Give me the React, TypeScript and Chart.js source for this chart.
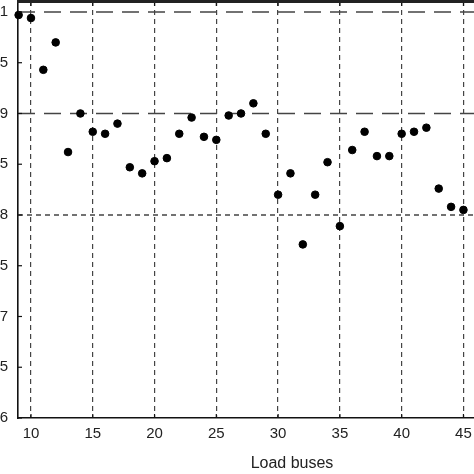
import { useEffect, useRef } from "react"
import { Chart, registerables } from "chart.js"

Chart.register(...registerables)

// load bus numbers and their voltage magnitudes (p.u.)
const buses = [
  9, 10, 11, 12, 13, 14, 15, 16, 17, 18, 19, 20, 21, 22, 23, 24, 25, 26, 27,
  28, 29, 30, 31, 32, 33, 34, 35, 36, 37, 38, 39, 40, 41, 42, 43, 44, 45,
]
const voltages = [
  0.9997, 0.9994, 0.9943, 0.997, 0.9862, 0.99, 0.9882, 0.988, 0.989, 0.9847,
  0.9841, 0.9853, 0.9856, 0.988, 0.9896, 0.9877, 0.9874, 0.9898, 0.99, 0.991,
  0.988, 0.982, 0.9841, 0.9771, 0.982, 0.9852, 0.9789, 0.9864, 0.9882, 0.9858,
  0.9858, 0.988, 0.9882, 0.9886, 0.9826, 0.9808, 0.9805,
]

const xTickValues = [10, 15, 20, 25, 30, 35, 40, 45, 50]
const yTickValues = [0.96, 0.965, 0.97, 0.975, 0.98, 0.985, 0.99, 0.995, 1.0]

// horizontal reference levels
const longDashLevels = [1.0, 0.99]
const shortDashLevels = [0.98]

const X_MIN = 8.95
const X_MAX = 53.3
const Y_MIN = 0.96
const Y_MAX = 1.00108

const framePlugin = {
  id: "frame",
  afterDraw(chart: Chart) {
    const { ctx, chartArea: a, scales } = chart
    const line = (x1: number, y1: number, x2: number, y2: number) => {
      ctx.beginPath()
      ctx.moveTo(x1, y1)
      ctx.lineTo(x2, y2)
      ctx.stroke()
    }
    ctx.save()
    ctx.strokeStyle = "#111"
    ctx.lineWidth = 1.2
    for (const v of xTickValues) {
      const px = scales.x.getPixelForValue(v)
      line(px, a.bottom, px, a.bottom - 4)
      line(px, a.top, px, a.top + 5)
    }
    for (const v of yTickValues) {
      const py = scales.y.getPixelForValue(v)
      line(a.left, py, a.left + 4, py)
    }
    // heavy top edge of the frame
    ctx.fillStyle = "#222"
    ctx.fillRect(a.left - 1, a.top - 1, a.right - a.left + 2, 3)
    ctx.fillRect(a.right - 1, a.top, 2, a.bottom - a.top)
    ctx.restore()
  },
}

function levelDataset(level: number, dash: number[]) {
  return {
    type: "line" as const,
    data: [
      { x: X_MIN, y: level },
      { x: X_MAX, y: level },
    ],
    borderColor: "#444",
    borderWidth: 1.4,
    borderDash: dash,
    pointRadius: 0,
    fill: false,
  }
}

export default function App() {
  const chartRef = useRef<HTMLCanvasElement>(null)
  const chartInstance = useRef<Chart | null>(null)

  useEffect(() => {
    if (!chartRef.current) return
    if (chartInstance.current) chartInstance.current.destroy()
    const ctx = chartRef.current.getContext("2d")
    if (!ctx) return

    Chart.defaults.font.family = "'Liberation Sans', Arial, sans-serif"
    Chart.defaults.color = "#222"

    chartInstance.current = new Chart(ctx, {
      type: "scatter",
      data: {
        datasets: [
          {
            type: "scatter",
            data: buses.map((b, i) => ({ x: b, y: voltages[i] })),
            backgroundColor: "#000",
            borderColor: "#000",
            pointRadius: 3.8,
            clip: false,
          },
          ...longDashLevels.map((l) => levelDataset(l, [17, 9])),
          ...shortDashLevels.map((l) => levelDataset(l, [5, 4])),
        ] as any,
      },
      options: {
        animation: false,
        responsive: false,
        layout: {
          autoPadding: false,
          padding: { top: 1, right: 34, left: 0, bottom: 0 },
        },
        plugins: {
          legend: { display: false },
          tooltip: { enabled: false },
        },
        scales: {
          x: {
            type: "linear",
            min: X_MIN,
            max: X_MAX,
            afterBuildTicks: (scale) => {
              scale.ticks = xTickValues.map((v) => ({ value: v }))
            },
            afterFit: (scale: any) => {
              scale.height = 56
              scale.paddingLeft = 0
              scale.paddingRight = 0
            },
            ticks: {
              font: { size: 15 },
              padding: 7,
              maxRotation: 0,
              autoSkip: false,
            },
            grid: {
              color: "#444",
              lineWidth: 1.2,
              drawTicks: false,
            },
            border: { display: true, color: "#111", width: 1.6, dash: [5, 4] },
            title: {
              display: true,
              text: "Load buses",
              font: { size: 16 },
              color: "#222",
              padding: { top: 0, bottom: 1 },
            },
          },
          y: {
            type: "linear",
            min: Y_MIN,
            max: Y_MAX,
            afterBuildTicks: (scale) => {
              scale.ticks = yTickValues.map((v) => ({ value: v }))
            },
            afterFit: (scale: any) => {
              scale.width = 18
              scale.paddingTop = 0
              scale.paddingBottom = 0
            },
            ticks: {
              font: { size: 15 },
              padding: 10,
              callback: (value) => String(Number(Number(value).toFixed(3))),
            },
            grid: { display: false, drawTicks: false },
            border: { display: true, color: "#111", width: 1.6 },
          },
        },
      },
      plugins: [framePlugin],
    })

    return () => {
      if (chartInstance.current) {
        chartInstance.current.destroy()
        chartInstance.current = null
      }
    }
  }, [])

  return (
    <div
      style={{
        position: "fixed",
        left: 0,
        top: 0,
        width: 474,
        height: 474,
        overflow: "hidden",
        background: "#fff",
      }}
    >
      <canvas
        ref={chartRef}
        width={600}
        height={474}
        style={{ width: 600, height: 474, display: "block" }}
      />
    </div>
  )
}
